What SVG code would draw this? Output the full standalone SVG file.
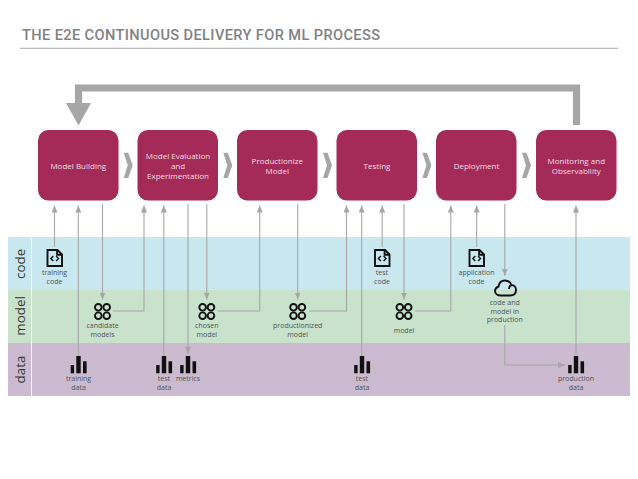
<svg xmlns="http://www.w3.org/2000/svg" width="638" height="479" viewBox="0 0 638 479">
<style>
.title{font:500 14.6px Roboto,"Liberation Sans",sans-serif;fill:#7f8284}
.box{fill:#a42b57}
.boxt{font:8px "Open Sans","Noto Sans",sans-serif;fill:#f3dde5;text-anchor:middle}
.lab{font:7px "Open Sans","Noto Sans",sans-serif;fill:#4f5355;text-anchor:middle}
.band{font:13.4px "Open Sans","Noto Sans",sans-serif;fill:#333;text-anchor:middle}
.c{fill:none;stroke:#a6a6a6;stroke-width:1.1}
.ca{marker-end:url(#a)}
.chev{fill:#a6a6a6}
.ic{fill:none;stroke:#111;stroke-width:1.9}
.bar{fill:#111}
</style>
<defs>
<marker id="a" markerUnits="userSpaceOnUse" markerWidth="8" markerHeight="7" refX="7" refY="3" orient="auto"><path d="M0 0L7 3L0 6Z" fill="#a6a6a6"/></marker>
<g id="doc"><path class="ic" d="M-7 -8H3L7.5 -3.5V8H-7Z"/><path d="M2.6 -8V-3.2H7.5" class="ic"/><path d="M-1.2 -2L-3.6 .5L-1.2 3M1.6 -2L4 .5L1.6 3" fill="none" stroke="#111" stroke-width="1.4"/></g>
<g id="bars"><rect class="bar" x="-7.800" y="0.200" width="3.400" height="8.300"/><rect class="bar" x="-2.200" y="-8.800" width="4.400" height="17.300"/><rect class="bar" x="4.500" y="-3.500" width="3.600" height="12"/></g>
<g id="circles"><circle class="ic" cx="-4.200" cy="-4.200" r="3.300"/><circle class="ic" cx="4.200" cy="-4.200" r="3.300"/><circle class="ic" cx="-4.200" cy="4.200" r="3.300"/><circle class="ic" cx="4.200" cy="4.200" r="3.300"/></g>
<path id="chevron" d="M0 0H4.500L9 12.600L4.500 25.300H0L4 12.600Z"/>
</defs>
<rect width="638" height="479" fill="#fff"/>
<text class="title" x="22" y="39.500" textLength="358" lengthAdjust="spacing">THE E2E CONTINUOUS DELIVERY FOR ML PROCESS</text>
<rect x="20" y="47.700" width="598" height="1.300" fill="#bcbcbc"/>
<g id="bands">
<rect x="8" y="237" width="622" height="53" fill="#c9e7ee"/>
<rect x="8" y="290" width="622" height="53" fill="#c9e2cc"/>
<rect x="8" y="343" width="622" height="53" fill="#ccbbd0"/>
<rect x="31" y="237" width="1" height="159" fill="#f2f7f7"/>
<text class="band" transform="translate(25,263.800) rotate(-90)">code</text>
<text class="band" transform="translate(25,316) rotate(-90)">model</text>
<text class="band" transform="translate(25,369.500) rotate(-90)">data</text>
</g>
<g id="connectors">
<path d="M576.500 125V88H78.500V104" fill="none" stroke="#a6a6a6" stroke-width="7.200"/>
<path d="M66 103H91L78.500 125.500Z" fill="#a6a6a6"/>
<use href="#chevron" class="chev" x="123.700" y="152.700"/>
<use href="#chevron" class="chev" x="223.300" y="152.700"/>
<use href="#chevron" class="chev" x="323" y="152.700"/>
<use href="#chevron" class="chev" x="422.400" y="152.700"/>
<use href="#chevron" class="chev" x="522" y="152.700"/>
<path class="c ca" d="M54.500 247V205.500"/>
<path class="c ca" d="M78.300 356V205.500"/>
<path class="c ca" d="M102.500 204V299.500"/>
<path class="c ca" d="M113 311H144V205.500"/>
<path class="c ca" d="M163.800 356V205.500"/>
<path class="c ca" d="M188 204V354"/>
<path class="c ca" d="M206.800 204V299.500"/>
<path class="c ca" d="M218 311H259.700V205.500"/>
<path class="c ca" d="M297.700 204V299.500"/>
<path class="c ca" d="M309 311H346.500V205.500"/>
<path class="c ca" d="M361.700 356V205.500"/>
<path class="c ca" d="M382.200 247V205.500"/>
<path class="c ca" d="M404 204V299.500"/>
<path class="c ca" d="M415 311H450.800V205.500"/>
<path class="c ca" d="M476.700 247V205.500"/>
<path class="c ca" d="M504.800 204V275.700"/>
<path class="c ca" d="M504.800 325V365H565"/>
<path class="c ca" d="M576 355V205.500"/>
</g>
<g id="model-building"><rect class="box" x="38" y="130" width="80.500" height="70.500" rx="10.500"/><text class="boxt" x="78.300" y="168.700">Model Building</text></g>
<g id="model-evaluation"><rect class="box" x="137.500" y="130" width="80.500" height="70.500" rx="10.500"/><text class="boxt" x="178" y="158.700">Model Evaluation</text><text class="boxt" x="178" y="168.700">and</text><text class="boxt" x="178" y="178.700">Experimentation</text></g>
<g id="productionize"><rect class="box" x="237" y="130" width="80.500" height="70.500" rx="10.500"/><text class="boxt" x="277.300" y="163.700">Productionize</text><text class="boxt" x="277.300" y="173.700">Model</text></g>
<g id="testing"><rect class="box" x="336.500" y="130" width="80.500" height="70.500" rx="10.500"/><text class="boxt" x="377" y="168.700">Testing</text></g>
<g id="deployment"><rect class="box" x="436" y="130" width="80.500" height="70.500" rx="10.500"/><text class="boxt" x="476.500" y="168.700">Deployment</text></g>
<g id="monitoring"><rect class="box" x="536" y="130" width="80.500" height="70.500" rx="10.500"/><text class="boxt" x="576.300" y="163.700">Monitoring and</text><text class="boxt" x="576.300" y="173.700">Observability</text></g>
<g id="training-code"><use href="#doc" x="54.500" y="258"/><text class="lab" x="54.500" y="275.300">training</text><text class="lab" x="54.500" y="284">code</text></g>
<g id="test-code"><use href="#doc" x="382" y="258"/><text class="lab" x="382" y="275.300">test</text><text class="lab" x="382" y="284">code</text></g>
<g id="application-code"><use href="#doc" x="476.500" y="258"/><text class="lab" x="476.500" y="275.300">application</text><text class="lab" x="476.500" y="284">code</text></g>
<g id="candidate-models"><use href="#circles" x="102.500" y="311.500"/><text class="lab" x="102.500" y="328.300">candidate</text><text class="lab" x="102.500" y="337">models</text></g>
<g id="chosen-model"><use href="#circles" x="206.800" y="311.500"/><text class="lab" x="206.800" y="328.300">chosen</text><text class="lab" x="206.800" y="337">model</text></g>
<g id="productionized-model"><use href="#circles" x="297.700" y="311.500"/><text class="lab" x="297.700" y="328.300">productionized</text><text class="lab" x="297.700" y="337">model</text></g>
<g id="model"><use href="#circles" x="404" y="311.500"/><text class="lab" x="404" y="332.500">model</text></g>
<g id="code-model-production"><path class="ic" d="M501 295.500H510C514 295.500 516 293 516 290C516 287 514 285 511.500 285C510.500 282 508 280.500 505 280.500C501.500 280.500 499 283 498.500 286.500C496 287.500 495 289.500 495 291C495 293.500 497.500 295.500 501 295.500ZM509 289C509 287 510 285.500 511.500 285"/><text class="lab" x="504.800" y="304.700">code and</text><text class="lab" x="504.800" y="313.500">model  in</text><text class="lab" x="504.800" y="322.200">production</text></g>
<g id="training-data"><use href="#bars" x="78.500" y="364.800"/><text class="lab" x="78.500" y="381.300">training</text><text class="lab" x="78.500" y="390">data</text></g>
<g id="test-data-1"><use href="#bars" x="164" y="364.800"/><text class="lab" x="164" y="381.300">test</text><text class="lab" x="164" y="390">data</text></g>
<g id="metrics"><use href="#bars" x="188" y="364.800"/><text class="lab" x="188" y="381.300">metrics</text></g>
<g id="test-data-2"><use href="#bars" x="362" y="364.800"/><text class="lab" x="362" y="381.300">test</text><text class="lab" x="362" y="390">data</text></g>
<g id="production-data"><use href="#bars" x="576" y="364.800"/><text class="lab" x="576" y="381.300">production</text><text class="lab" x="576" y="390">data</text></g>
</svg>
